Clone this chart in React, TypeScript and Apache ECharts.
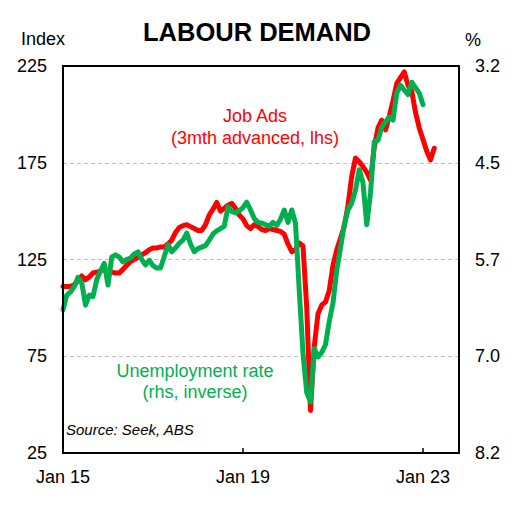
import React, { useEffect, useRef } from "react";
import * as echarts from "echarts";

// x positions are months since Jan 2015 (index 0 = Jan 2015)
const xTickLabels = ["Jan 15", "Jan 19", "Jan 23"];
const xTickStep = 48; // months between labelled ticks
const xSpanMonths = 105.6; // right edge of the plot, in months

const leftTickLabels = ["25", "75", "125", "175", "225"];
const rightTickLabels = ["3.2", "4.5", "5.7", "7.0", "8.2"];

const LEFT_MIN = 25;
const LEFT_MAX = 225;
const LEFT_STEP = 50;
const RIGHT_MIN = 3.2;
const RIGHT_MAX = 8.2;
const RIGHT_STEP = 1.25;

// Job Ads index (3mth advanced, lhs), monthly from Jan 2015
const jobAds = [
  111, 111, 111, 112, 114, 116.5, 114.5, 116, 118, 118.5, 119, 120,
  119.5, 118.5, 118, 118, 120, 122, 124, 125, 126, 127.5, 128.5, 130,
  131, 131, 131.5, 131.5, 133, 135, 139, 141.5, 142.5, 143, 142, 141,
  140, 140, 143, 148, 151, 154.5, 150, 151.5, 153, 154, 151.5, 148,
  146, 142.5, 141, 143, 142, 140.5, 140, 141, 140.5, 140, 139.5, 138,
  133, 129, 130, 133.5, 132, 100, 47, 80, 97, 101.5, 103, 109,
  122, 130, 136, 142, 153, 168, 177.5, 175.5, 173, 170, 166, 183,
  193, 197, 192, 199, 207, 216, 219, 222, 215, 212, 201, 193,
  187, 181, 176.5, 182.5,
];

// Unemployment rate (%, rhs, inverse), monthly from Jan 2015
const unemploymentRate = [
  6.35, 6.16, 6.12, 6.05, 5.93, 6.0, 6.29, 6.16, 6.18, 5.96, 5.85, 5.75,
  6.03, 5.67, 5.64, 5.67, 5.73, 5.7, 5.68, 5.63, 5.6, 5.7, 5.77, 5.71,
  5.78, 5.81, 5.81, 5.66, 5.51, 5.6, 5.55, 5.49, 5.45, 5.36, 5.5, 5.6,
  5.56, 5.54, 5.52, 5.45, 5.37, 5.33, 5.3, 5.27, 5.02, 5.08, 5.1, 5.07,
  5.03, 4.96, 5.06, 5.17, 5.22, 5.23, 5.25, 5.27, 5.22, 5.26, 5.18, 5.06,
  5.22, 5.06, 5.23, 6.1, 6.91, 7.42, 7.54, 6.85, 6.96, 6.9, 6.8, 6.5,
  6.26, 5.84, 5.55, 5.25, 5.06, 4.97, 4.8, 4.54, 4.71, 5.25, 4.84, 4.18,
  4.16, 3.99, 3.92, 3.86, 3.9, 3.55, 3.45, 3.51, 3.57, 3.41, 3.48, 3.55,
  3.7,
];

const FONT = "Arial, 'Liberation Sans', sans-serif";
const RED = "#FF0000";
const GREEN = "#00B050";

export default function App() {
  const ref = useRef<HTMLDivElement>(null);

  useEffect(() => {
    if (!ref.current) return;
    const chart = echarts.init(ref.current, undefined, { renderer: "svg" });

    const gridLeft = 63;
    const gridTop = 66;
    const gridRight = 65;
    const gridBottom = 52;
    const W = 524;
    const H = 505;

    const option: any = {
      animation: false,
      backgroundColor: "#fff",
      grid: {
        left: gridLeft,
        top: gridTop,
        right: gridRight,
        bottom: gridBottom,
        containLabel: false,
      },
      xAxis: {
        type: "value",
        min: 0,
        max: xSpanMonths,
        interval: xTickStep,
        axisLine: { show: false },
        axisTick: {
          show: true,
          inside: true,
          length: 5,
          lineStyle: { color: "#000", width: 1.5 },
        },
        splitLine: { show: false },
        axisLabel: {
          margin: 15,
          fontSize: 18,
          fontFamily: FONT,
          color: "#000",
          showMaxLabel: false,
          formatter: (v: number) => {
            const i = Math.round(v / xTickStep);
            return Math.abs(v - i * xTickStep) < 1e-6 ? xTickLabels[i] ?? "" : "";
          },
        },
      },
      yAxis: [
        {
          type: "value",
          min: 0,
          max: LEFT_MAX - LEFT_MIN,
          interval: LEFT_STEP,
          axisLine: { show: false },
          axisTick: { show: false },
          splitLine: {
            show: true,
            lineStyle: { color: "#BFBFBF", width: 1, type: [4, 3] },
          },
          axisLabel: {
            margin: 16,
            fontSize: 18,
            fontFamily: FONT,
            color: "#000",
            formatter: (v: number) => leftTickLabels[Math.round(v / LEFT_STEP)] ?? "",
          },
        },
        {
          type: "value",
          position: "right",
          inverse: true,
          min: 0,
          max: RIGHT_MAX - RIGHT_MIN,
          interval: RIGHT_STEP,
          axisLine: { show: false },
          axisTick: { show: false },
          splitLine: { show: false },
          axisLabel: {
            margin: 16,
            fontSize: 18,
            fontFamily: FONT,
            color: "#000",
            formatter: (v: number) => rightTickLabels[Math.round(v / RIGHT_STEP)] ?? "",
          },
        },
      ],
      series: [
        {
          name: "Job Ads",
          type: "line",
          yAxisIndex: 0,
          showSymbol: false,
          symbol: "none",
          smooth: false,
          lineStyle: { color: RED, width: 5, join: "round", cap: "round" },
          data: jobAds.map((v, i) => [i, v - LEFT_MIN]),
          z: 2,
        },
        {
          name: "Unemployment rate",
          type: "line",
          yAxisIndex: 1,
          showSymbol: false,
          symbol: "none",
          smooth: false,
          lineStyle: { color: GREEN, width: 5, join: "round", cap: "round" },
          data: unemploymentRate.map((v, i) => [i, v - RIGHT_MIN]),
          z: 3,
        },
      ],
      graphic: [
        {
          type: "rect",
          z: 100,
          silent: true,
          shape: {
            x: gridLeft,
            y: gridTop,
            width: W - gridLeft - gridRight,
            height: H - gridTop - gridBottom,
          },
          style: { fill: "transparent", stroke: "#000", lineWidth: 2 },
        },
        {
          type: "text",
          x: 257,
          y: 32,
          style: {
            text: "LABOUR DEMAND",
            font: `bold 25.5px ${FONT}`,
            fill: "#000",
            textAlign: "center",
            textVerticalAlign: "middle",
          },
        },
        {
          type: "text",
          x: 43,
          y: 39,
          style: {
            text: "Index",
            font: `18px ${FONT}`,
            fill: "#000",
            textAlign: "center",
            textVerticalAlign: "middle",
          },
        },
        {
          type: "text",
          x: 473,
          y: 40,
          style: {
            text: "%",
            font: `18px ${FONT}`,
            fill: "#000",
            textAlign: "center",
            textVerticalAlign: "middle",
          },
        },
        {
          type: "text",
          x: 255,
          y: 116,
          style: {
            text: "Job Ads",
            font: `18px ${FONT}`,
            fill: RED,
            textAlign: "center",
            textVerticalAlign: "middle",
          },
        },
        {
          type: "text",
          x: 255,
          y: 138,
          style: {
            text: "(3mth advanced, lhs)",
            font: `18px ${FONT}`,
            fill: RED,
            textAlign: "center",
            textVerticalAlign: "middle",
          },
        },
        {
          type: "text",
          x: 195,
          y: 371,
          style: {
            text: "Unemployment rate",
            font: `18px ${FONT}`,
            fill: GREEN,
            textAlign: "center",
            textVerticalAlign: "middle",
          },
        },
        {
          type: "text",
          x: 195,
          y: 392,
          style: {
            text: "(rhs, inverse)",
            font: `18px ${FONT}`,
            fill: GREEN,
            textAlign: "center",
            textVerticalAlign: "middle",
          },
        },
        {
          type: "text",
          x: 66,
          y: 429,
          style: {
            text: "Source: Seek, ABS",
            font: `italic 15px ${FONT}`,
            fill: "#000",
            textAlign: "left",
            textVerticalAlign: "middle",
          },
        },
      ],
    };

    chart.setOption(option);
    return () => {
      chart.dispose();
    };
  }, []);

  return (
    <div
      ref={ref}
      style={{ position: "absolute", left: 0, top: 0, width: 524, height: 505, background: "#fff" }}
    />
  );
}
